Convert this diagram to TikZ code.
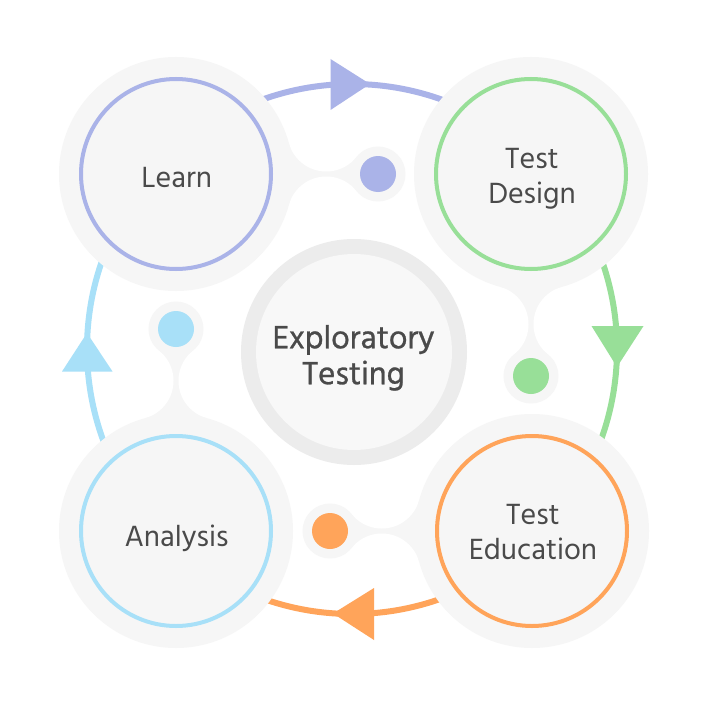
\documentclass[tikz,border=0pt]{standalone}
\usepackage{fontspec}
\newfontfamily\hind{Hind Madurai}
\newfontfamily\hindm{Hind Madurai}[FakeBold=0.8]
\usetikzlibrary{calc}
\definecolor{lav}{HTML}{AAB3E8}
\definecolor{grn}{HTML}{98DF98}
\definecolor{org}{HTML}{FFA45A}
\definecolor{sky}{HTML}{A8E0F8}
\definecolor{halo}{HTML}{F6F6F6}
\definecolor{ringgray}{HTML}{ECECEC}
\definecolor{innerfill}{HTML}{F8F8F8}
\definecolor{txt}{HTML}{4A4A4A}
\newcommand\neckat[3]{%
  \begin{scope}[shift={(#1,#2)},rotate=#3]
    \fill[halo] (112.9,31.0) -- (180.5,17.1) -- (180.5,-17.1) -- (112.9,-31.0) -- cycle;
    \fill[white] (150.2,41.2) circle[radius=38.7] (150.2,-41.2) circle[radius=38.7];
  \end{scope}}
\begin{document}
\begin{tikzpicture}[x=1pt,y=-1pt,
  bgc/.style={circle, fill=halo, minimum size=234pt, inner sep=0pt, outer sep=0pt},
  ringc/.style={circle, draw=#1, line width=4pt, minimum size=190pt, inner sep=0pt},
  haloc/.style={circle, fill=halo, minimum size=55pt, inner sep=0pt},
  dotc/.style={circle, fill=#1, minimum size=36pt, inner sep=0pt},
  arcline/.style={draw=#1, line width=6pt},
  headfill/.style={fill=#1},
  lbl/.style={font=\hind\fontsize{30}{35}\selectfont, text=txt, align=center, inner sep=0pt, outer sep=0pt},
  mainlbl/.style={font=\hindm\fontsize{33}{36}\selectfont, text=txt, align=center, inner sep=0pt, outer sep=0pt}]
\useasboundingbox (0,0) rectangle (706,706);
\fill[white] (0,0) rectangle (706,706);
% necks joining circles to halos
\neckat{176}{174}{0}
\neckat{531}{174}{-90}
\neckat{532}{531}{180}
\neckat{176}{531}{90}
% cycle arcs
\coordinate (hub) at (352,349);
\draw[arcline=lav] ($(hub)+(-135:265)$) arc[start angle=-135, end angle=-45, radius=265];
\draw[arcline=grn] ($(hub)+(-45:265)$) arc[start angle=-45, end angle=45, radius=265];
\draw[arcline=org] ($(hub)+(45:265)$) arc[start angle=45, end angle=135, radius=265];
\draw[arcline=sky] ($(hub)+(135:265)$) arc[start angle=135, end angle=225, radius=265];
% arrow heads
\fill[headfill=lav] (330.5,59) -- (330.5,110) -- (370,84) -- cycle;
\fill[headfill=grn] (591.5,326) -- (643.5,326) -- (617,367) -- cycle;
\fill[headfill=org] (374,588) -- (374,640) -- (333,613.5) -- cycle;
\fill[headfill=sky] (62,371.5) -- (112.5,371.5) -- (87,333) -- cycle;
% gray discs
\node[bgc] (learnbg) at (176,174) {};
\node[bgc] (designbg) at (531,174) {};
\node[bgc] (educbg) at (532,531) {};
\node[bgc] (analysisbg) at (176,531) {};
% halos and dots
\node[haloc] (lavhalo) at (378,174) {};
\node[haloc] (grnhalo) at (531,376) {};
\node[haloc] (orghalo) at (330,531) {};
\node[haloc] (skyhalo) at (176,329) {};
\node[dotc=lav] (lavdot) at (lavhalo) {};
\node[dotc=grn] (grndot) at (grnhalo) {};
\node[dotc=org] (orgdot) at (orghalo) {};
\node[dotc=sky] (skydot) at (skyhalo) {};
% centre
\node[circle, fill=ringgray, minimum size=226pt, inner sep=0pt] (explorebg) at (354,352) {};
\node[circle, fill=innerfill, minimum size=196pt, inner sep=0pt] (explore) at (354,352) {};
% coloured rings
\node[ringc=lav] (learn) at (learnbg) {};
\node[ringc=grn] (design) at (designbg) {};
\node[ringc=org] (educ) at (educbg) {};
\node[ringc=sky] (analysis) at (analysisbg) {};
% labels
\node[lbl, anchor=base] (learntxt) at (176.7,187.3) {Learn};
\node[lbl, anchor=north] (designtxt) at (532,148) {Test\\Design};
\node[lbl, anchor=north] (eductxt) at (533,504.5) {Test\\Education};
\node[lbl, anchor=base] (analysistxt) at (176.5,546) {Analysis};
\node[mainlbl, anchor=north] (exploretxt) at (353.5,325) {Exploratory\\Testing};
\end{tikzpicture}
\end{document}
